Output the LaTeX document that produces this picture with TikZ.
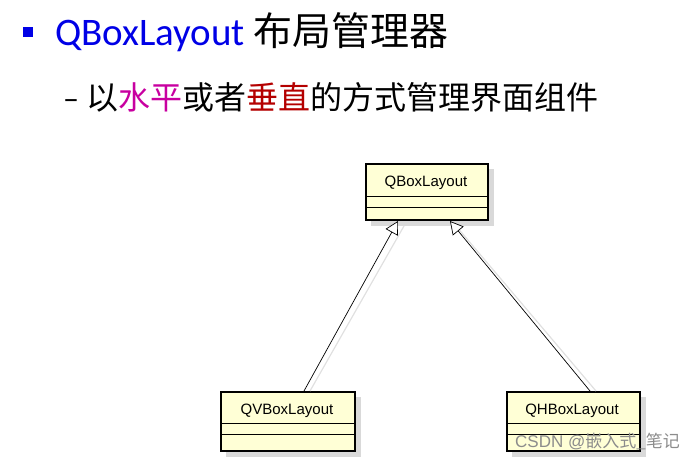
\documentclass[tikz,border=0pt]{standalone}
\usepackage{fontspec}
\setmainfont{Carlito}
\newfontfamily\cjk{Noto Sans CJK SC}
\newfontfamily\umlf{Liberation Sans}
\usetikzlibrary{arrows.meta}
\definecolor{titleblue}{RGB}{0,0,230}
\definecolor{mag}{RGB}{200,0,160}
\definecolor{dred}{RGB}{180,0,0}
\definecolor{umlfill}{RGB}{255,255,214}
\tikzset{
  umlbox/.style={draw, line width=2pt, fill=umlfill, minimum width=#1, minimum height=59pt, inner sep=0pt},
  shad/.style={fill=black!15, draw=none},
  gen/.style={-{Triangle[open,length=13pt,width=14pt,fill=white]}, line width=0.7pt},
  lbl/.style={font=\umlf\fontsize{15}{17}\selectfont, anchor=north}
}
\begin{document}
\begin{tikzpicture}[x=1pt,y=-1pt]
\useasboundingbox (0,0) rectangle (694,465);
% title
\fill[titleblue] (23,27) rectangle (33,37);
\node[anchor=west, inner sep=0pt, font=\fontsize{39}{43}\selectfont] (title) at (55,32)
  {\textcolor{titleblue}{QBoxLayout} {\cjk 布局管理器}};
\node[anchor=west, inner sep=0pt, font=\fontsize{32}{36}\selectfont] (sub) at (63,97)
  {– {\cjk 以\textcolor{mag}{水平}或者\textcolor{dred}{垂直}的方式管理界面组件}};
% shadows
\fill[shad] (371,169) rectangle (494,226);
\fill[shad] (226,397) rectangle (361,457);
\fill[shad] (512,397) rectangle (646,457);
% boxes
\node[umlbox=122pt, minimum height=56pt, anchor=north west] (qb) at (365,163) {};
\node[lbl] (qbt) at (426,172) {QBoxLayout};
\draw[line width=1pt] (365,197) -- (487,197) (365,208) -- (487,208);
\node[umlbox=134pt, anchor=north west] (qv) at (220,391) {};
\node[lbl] (qvt) at (287,400) {QVBoxLayout};
\draw[line width=1pt] (220,423) -- (354,423) (220,434) -- (354,434);
\node[umlbox=133pt, anchor=north west] (qh) at (506,391) {};
\node[lbl] (qht) at (572,400) {QHBoxLayout};
\draw[line width=1pt] (506,423) -- (639,423) (506,434) -- (639,434);
% connectors
\coordinate (t1) at (398,221);
\coordinate (t2) at (450,221);
\coordinate (s1) at (304,391);
\coordinate (s2) at (590,391);
\draw[black!12, line width=1.2pt] (310,391) -- (404,226);
\draw[black!12, line width=1.2pt] (596,391) -- (456,226);
\draw[gen] (s1) -- (t1);
\draw[gen] (s2) -- (t2);
% watermark
\node[anchor=east, inner sep=0pt, text=black!45, font=\umlf\fontsize{17}{19}\selectfont] (wm) at (680,442) {CSDN @{\cjk 嵌入式\_笔记}};
\end{tikzpicture}
\end{document}
